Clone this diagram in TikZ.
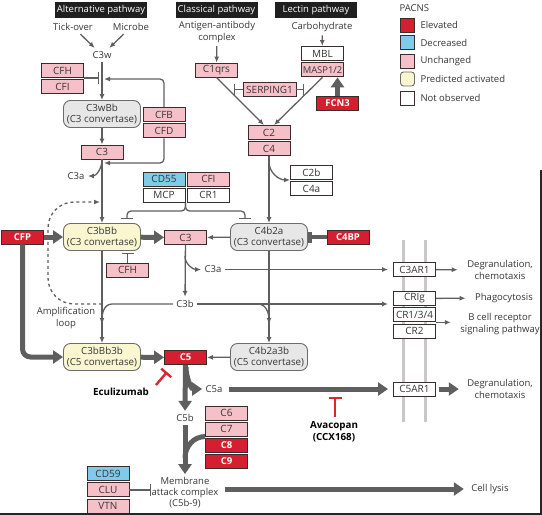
\documentclass[tikz,border=0pt]{standalone}
\usepackage{fontspec}
\setmainfont{Open Sans}
\usepackage{xcolor}
\usetikzlibrary{positioning, arrows.meta}
\definecolor{elevred}{HTML}{D51F31}
\definecolor{decblue}{HTML}{80CAEA}
\definecolor{unchpink}{HTML}{F6C0C9}
\definecolor{predyellow}{HTML}{F9F6D0}
\definecolor{convgray}{HTML}{E7E7E7}
\definecolor{linegray}{HTML}{5F5F5F}
\definecolor{membrane}{HTML}{C8C8C8}
\definecolor{boxline}{HTML}{3B2B2D}
\definecolor{labelgray}{HTML}{363636}
\definecolor{drugred}{HTML}{D9262F}
\tikzset{
x=1pt, y=-1pt, % one unit is one pixel of the drawing, y runs downwards
every node/.style={font=\fontsize{9.5}{11.5}\selectfont, text=labelgray},
gene/.style={draw=boxline, line width=0.9pt, minimum width=42pt, minimum height=14pt, inner sep=0pt, font=\fontsize{10}{11}\selectfont}, % a protein box
elevated/.style={gene, fill=elevred, text=white, font=\fontsize{9.5}{11}\selectfont\bfseries},
decreased/.style={gene, fill=decblue},
unchanged/.style={gene, fill=unchpink},
unseen/.style={gene, fill=white},
convertase/.style={draw=gray!85!black, line width=0.9pt, fill=convgray, rounded corners=7pt, minimum width=77pt, minimum height=27pt, inner sep=1pt, align=center, font=\fontsize{9.8}{11}\selectfont},
predicted/.style={convertase, fill=predyellow},
pathway/.style={fill=black!88, text=white, minimum width=82pt, minimum height=16pt, inner sep=0pt}, % black title bar
key/.style={draw=boxline, line width=0.9pt, minimum width=14pt, minimum height=14pt, inner sep=0pt}, % legend square
flow/.style={draw=linegray, line width=1.3pt, -{Latex[length=6pt, width=5pt]}},
bigflow/.style={draw=linegray, line width=5pt, -{Triangle[length=10pt, width=13pt]}},
block/.style={draw=linegray, line width=1.3pt, -{Bar[width=12pt]}},
bigblock/.style={draw=linegray, line width=4pt, -{Bar[width=11pt]}},
drug/.style={draw=drugred, line width=2.4pt, -{Bar[width=13pt]}},
drugname/.style={text=black, align=center, font=\fontsize{9.8}{12}\selectfont\bfseries},
}
\begin{document}
\begin{tikzpicture}
\useasboundingbox (0,0) rectangle (542,515);
% cell membrane
\draw[membrane, line width=3pt] (403,240) -- (403,422);
\draw[membrane, line width=3pt] (425,240) -- (425,422);

% titles
\node[pathway, minimum width=92pt] (alt) at (101,10) {Alternative pathway};
\node[pathway] (cla) at (216.5,10) {Classical pathway};
\node[pathway] (lec) at (316,10) {Lectin pathway};

% legend
\node[anchor=west] (pacns) at (396,8) {PACNS};
\node[key, fill=elevred] (kel) at (407.5,25) {};
\node[anchor=west] (tel) at (417,25) {Elevated};
\node[key, fill=decblue] (kde) at (407.5,42.5) {};
\node[anchor=west] (tde) at (417,42.5) {Decreased};
\node[key, fill=unchpink] (kun) at (407.5,61) {};
\node[anchor=west] (tun) at (417,61) {Unchanged};
\node[key, fill=predyellow, draw=gray!85!black, rounded corners=3pt] (kpr) at (407.5,79) {};
\node[anchor=west] (tpr) at (417,79) {Predicted activated};
\node[key, fill=white] (kno) at (407.5,98) {};
\node[anchor=west] (tno) at (417,98) {Not observed};

% alternative pathway
\node (tick) at (73,27) {Tick-over};
\node (microbe) at (131,27) {Microbe};
\node (c3w) at (102,55) {C3w};
\node[unchanged] (cfh) at (62.5,70.5) {CFH};
\node[unchanged, below=1.5pt of cfh] (cfi) {CFI};
\node[convertase] (c3wbb) at (102,114) {C3wBb\\(C3 convertase)};
\node[unchanged] (cfb) at (164,114.5) {CFB};
\node[unchanged, below=1.5pt of cfb] (cfd) {CFD};
\node[unchanged] (c3up) at (102,152) {C3};
\node (c3aup) at (76,176) {C3a};
\coordinate (loopin) at (104,79);
\coordinate (loopout) at (104,163);
\draw[flow] (tick) -- (c3w);
\draw[flow] (microbe) -- (c3w);
\draw[flow] (c3w) -- (c3wbb);
\draw[block] (cfh.south east) -- ++(15,0);
\draw[flow, rounded corners=4pt] (cfb.north) |- (loopin);
\draw[flow, rounded corners=4pt] (cfd.south) |- (loopout);
\draw[flow] (c3wbb) -- (c3up);
\draw[flow] (102,160) to[out=-90, in=0] (c3aup.east);

% classical and lectin pathways
\node[align=center] (agab) at (217,32) {Antigen-antibody\\complex};
\node[unchanged] (c1qrs) at (216.5,70) {C1qrs};
\node (carb) at (322,27) {Carbohydrate};
\node[unseen] (mbl) at (322.5,53.5) {MBL};
\node[unchanged, below=1.5pt of mbl, font=\fontsize{9.4}{11}\selectfont] (masp) {MASP1/2};
\node[elevated] (fcn3) at (337.5,103) {FCN3};
\node[unchanged, minimum width=53pt] (serping) at (269.5,89.5) {SERPING1};
\node[unchanged] (c2) at (269,132.5) {C2};
\node[unchanged, below=1.5pt of c2] (c4) {C4};
\node[unseen] (c2b) at (311.5,172.5) {C2b};
\node[unseen, below=1.5pt of c2b] (c4a) {C4a};
\draw[flow] (agab) -- (c1qrs);
\draw[flow] (carb) -- (mbl);
\draw[bigflow] (fcn3) -- (fcn3 |- masp.south);
\draw[flow] (c1qrs.south) -- ([xshift=-5pt]c2.north);
\draw[flow] (masp.south) -- ([xshift=5pt]c2.north);
\draw[block] (serping.west) -- ++(-9,0);
\draw[block] (serping.east) -- ++(8,0);
\draw[flow] (269,162) to[out=-90, in=180] (c2b.south west);

% regulators
\node[decreased] (cd55) at (164,179) {CD55};
\node[unchanged, right=1.5pt of cd55] (cfimid) {CFI};
\node[unseen, below=1.5pt of cd55] (mcp) {MCP};
\node[unseen, right=1.5pt of mcp] (cr1) {CR1};
\draw[block, rounded corners=4pt] (mcp.south east) |- (127,211) -- (127,219);
\draw[block, rounded corners=4pt] (mcp.south east) |- (245,211) -- (245,219);

% C3 convertases
\node[elevated] (cfp) at (22.5,237) {CFP};
\node[predicted] (c3bbb) at (102,237) {C3bBb\\(C3 convertase)};
\node[unchanged] (c3mid) at (185.5,237.5) {C3};
\node[convertase] (c4b2a) at (269,237) {C4b2a\\(C3 convertase)};
\node[elevated] (c4bp) at (348,237) {C4BP};
\node[unchanged] (cfhmid) at (127.5,270) {CFH};
\node (c3amid) at (213,269.5) {C3a};
\node (c3b) at (185,304) {C3b};
\node[align=center] (amploop) at (66,318) {Amplification\\loop};
\draw[flow] (c3up) -- (c3bbb);
\draw[flow] (c4) -- (c4b2a);
\draw[bigflow] (cfp) -- (c3bbb);
\draw[bigflow] (c3bbb) -- (c3mid);
\draw[flow] (c4b2a) -- (c3mid);
\draw[bigblock] (c4bp) -- (c4b2a);
\draw[block] (cfhmid.north) -- ++(0,-10);
\draw[flow] (c3mid) -- (c3b);
\draw[flow] (185,256) to[out=-90, in=180] (c3amid.west);
\draw[flow, dashed, rounded corners=26pt] (102,304) -- (48,304) -- (48,202) -- (100,202);
\draw[flow] (c3b.west) -- (112,304) to[out=180, in=90] (102,324);
\draw[flow] (258,304) to[out=0, in=90] (269,324);

% C5 convertases
\node[predicted] (c3bbb3b) at (102,357) {C3bBb3b\\(C5 convertase)};
\node[elevated] (c5) at (185.5,357.5) {C5};
\node[convertase] (c4b2a3b) at (269,357) {C4b2a3b\\(C5 convertase)};
\node[drugname] (eculi) at (121,392) {Eculizumab};
\node (c5a) at (214,389) {C5a};
\node (c5b) at (185,418) {C5b};
\draw[flow] (c3bbb) -- (c3bbb3b);
\draw[flow] (c4b2a) -- (c4b2a3b);
\draw[bigflow, rounded corners=8pt] (cfp.south) |- (c3bbb3b.west);
\draw[bigflow] (c3bbb3b) -- (c5);
\draw[flow] (c4b2a3b) -- (c5);
\draw[drug] (156,385) -- (167,372);
\draw[bigflow] (c5) -- (c5b);
\draw[bigflow] (186,367) to[out=-90, in=180] (c5a.west);

% terminal pathway
\node[unchanged] (c6) at (226.5,413) {C6};
\node[unchanged, below=1.2pt of c6] (c7) {C7};
\node[elevated, below=1.2pt of c7] (c8) {C8};
\node[elevated, below=1.2pt of c8] (c9) {C9};
\node[align=center, font=\fontsize{9.5}{11}\selectfont] (mac) at (185,493) {Membrane\\attack complex\\(C5b-9)};
\node[decreased] (cd59) at (108,473.5) {CD59};
\node[unchanged, below=1.5pt of cd59] (clu) {CLU};
\node[unchanged, below=1.5pt of clu] (vtn) {VTN};
\node (lysis) at (490,489) {Cell lysis};
\draw[bigflow] (c5b) -- (mac);
\draw[draw=linegray, line width=5pt] (c7.south west) to[out=180, in=90] (185,458);
\draw[block] (clu.east) -- ++(22,0);
\draw[bigflow, shorten <=3pt, shorten >=4pt] (mac.east |- lysis) -- (lysis);

% receptors
\node[unseen] (c3ar1) at (414.5,269.5) {C3AR1};
\node[unseen] (crig) at (414.5,298.5) {CRIg};
\node[unseen, below=1.5pt of crig] (cr134) {CR1/3/4};
\node[unseen, below=1.5pt of cr134] (cr2) {CR2};
\node[unseen] (c5ar1) at (414.5,389) {C5AR1};
\node[align=center] (degrup) at (500,270) {Degranulation,\\chemotaxis};
\node (phago) at (504,298) {Phagocytosis};
\node[align=center] (bcell) at (500,324) {B cell receptor\\signaling pathway};
\node[align=center] (degrlow) at (500,389) {Degranulation,\\chemotaxis};
\node[drugname] (avaco) at (334,432) {Avacopan\\(CCX168)};
\draw[flow, shorten >=5pt] (c3amid) -- (c3ar1);
\draw[flow, shorten >=5pt] (c3b) -- (c3b -| crig.west);
\draw[flow, shorten >=6pt] (c3ar1) -- (degrup);
\draw[flow, shorten >=6pt] (crig) -- (phago);
\draw[flow, shorten >=6pt] (cr134.south east) -- (cr134.south east -| bcell.west);
\draw[bigflow, shorten <=3pt, shorten >=5pt] (c5a) -- (c5ar1);
\draw[bigflow, shorten <=3pt, shorten >=5pt] (c5ar1) -- (degrlow);
\draw[drug] (335,417) -- (335,397);

% frame
\draw[black!85, line width=2pt] (541,170) -- (541,514) -- (0,514);
\end{tikzpicture}
\end{document}
